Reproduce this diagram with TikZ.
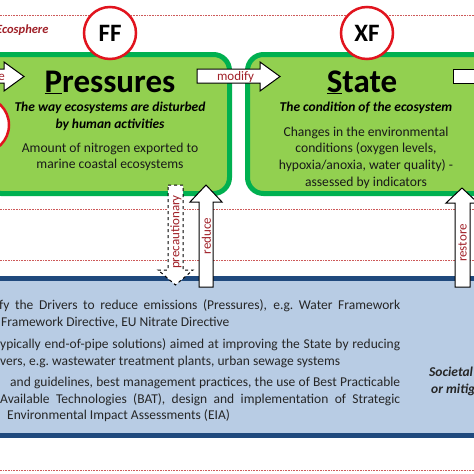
\documentclass[tikz,border=0pt]{standalone}
\usepackage{fontspec}
\setmainfont{Carlito}
\definecolor{gfill}{RGB}{146,208,80}
\definecolor{gline}{RGB}{0,176,80}
\definecolor{bfill}{RGB}{184,204,228}
\definecolor{bline}{RGB}{31,73,125}
\definecolor{dred}{RGB}{160,32,40}
\definecolor{cred}{RGB}{225,20,30}
\definecolor{dotred}{RGB}{205,90,90}
\tikzset{
  dotline/.style={draw=dotred, line width=0.6pt, densely dotted},
  greenbox/.style={fill=gfill, draw=gline, line width=5pt, rounded corners=16pt, inner sep=0pt},
  bluebox/.style={fill=bfill, draw=bline, line width=5pt, inner sep=0pt},
  factor/.style={circle, fill=white, draw=cred, line width=2.5pt, minimum size=52pt, inner sep=0pt, font=\bfseries\fontsize{25}{28}\selectfont},
  boxtitle/.style={font=\bfseries\fontsize{33}{38}\selectfont, anchor=base, inner sep=0pt},
  boxsub/.style={font=\bfseries\itshape\fontsize{13.5}{16}\selectfont, anchor=base, inner sep=0pt},
  boxtext/.style={font=\fontsize{13.6}{16}\selectfont, text=black!90, anchor=base, inner sep=0pt},
  blockarrow/.style={fill=white, draw=black, line width=1pt},
  dashedarrow/.style={fill=white, draw=black, line width=1pt, dashed},
  arrowlabel/.style={text=dred, font=\fontsize{13}{15}\selectfont, inner sep=0pt},
  bluetext/.style={font=\fontsize{13.5}{16}\selectfont, text=black!85, anchor=base west, inner sep=0pt},
  resptext/.style={font=\bfseries\itshape\fontsize{13.5}{16}\selectfont, text=black!85, anchor=base west, inner sep=0pt},
}
\begin{document}
\begin{tikzpicture}[x=1pt, y=-1pt]
\useasboundingbox (0,0) rectangle (474,474);
\fill[white] (0,0) rectangle (474,474);

% dotted separators
\coordinate (d1a) at (-5,15);  \coordinate (d1b) at (480,15);
\coordinate (d2a) at (-5,209); \coordinate (d2b) at (480,209);
\coordinate (d3a) at (-5,260); \coordinate (d3b) at (480,260);
\coordinate (d4a) at (-5,470); \coordinate (d4b) at (480,470);
\draw[dotline] (d1a) -- (d1b);
\draw[dotline] (d2a) -- (d2b);
\draw[dotline] (d3a) -- (d3b);
\draw[dotline] (d4a) -- (d4b);

\node[font=\bfseries\itshape\fontsize{12.5}{15}\selectfont, text=dred, anchor=base west, inner sep=0pt] (eco) at (-4,33) {Ecosphere};

% green boxes
\node[greenbox, minimum width=244.5pt, minimum height=139pt] (press) at (107.25,124) {};
\node[greenbox, minimum width=247.5pt, minimum height=139pt] (state) at (371.25,124) {};

% blue box
\node[bluebox, minimum width=500pt, minimum height=157pt] (resp) at (240,357) {};

% factor circles
\node[factor] (ff) at (110,33) {FF};
\node[factor] (xf) at (367,33) {XF};
\node[circle, draw=cred, fill=white, line width=2.5pt, minimum size=56pt, inner sep=0pt] (lc) at (-19,125) {};

% Pressures text
\node[boxtitle] (ptitle) at (110,92) {\underline{P}ressures};
\node[boxsub] (psub1) at (110,111) {The way ecosystems are disturbed};
\node[boxsub] (psub2) at (110,128) {by human activities};
\node[boxtext] (ptx1) at (110,152) {Amount of nitrogen exported to};
\node[boxtext] (ptx2) at (110,168) {marine coastal ecosystems};

% State text
\node[boxtitle] (stitle) at (362,92) {\underline{S}tate};
\node[boxsub] (ssub1) at (366,111) {The condition of the ecosystem};
\node[boxtext] (stx1) at (366,136) {Changes in the environmental};
\node[boxtext] (stx2) at (366,152) {conditions (oxygen levels,};
\node[boxtext] (stx3) at (366,169) {hypoxia/anoxia, water quality) -};
\node[boxtext] (stx4) at (366,186) {assessed by indicators};

% horizontal block arrows
\draw[blockarrow] (-20,69) -- (4,69) -- (4,62) -- (24,76.5) -- (4,91) -- (4,83) -- (-20,83) -- cycle;
\node[arrowlabel, anchor=base east] (lbe) at (5,80) {e};
\draw[blockarrow] (197,69) -- (260,69) -- (260,62) -- (280,76.5) -- (260,91) -- (260,83) -- (197,83) -- cycle;
\node[arrowlabel, anchor=base] (lbmod) at (235.5,80) {modify};
\draw[blockarrow] (453,69) rectangle (490,83);

% vertical block arrows
\draw[dashedarrow] (168,185) -- (183,185) -- (183,270) -- (193,270) -- (175.5,285) -- (158,270) -- (168,270) -- cycle;
\node[arrowlabel, rotate=90] (lbprec) at (176,232) {precautionary};
\draw[blockarrow] (199,287) -- (199,202) -- (190,202) -- (206,185) -- (222,202) -- (213,202) -- (213,287) -- cycle;
\node[arrowlabel, rotate=90] (lbred) at (206.5,236) {reduce};
\draw[blockarrow] (455,287) -- (455,203) -- (446,203) -- (462,188) -- (478,203) -- (470,203) -- (470,287) -- cycle;
\node[arrowlabel, rotate=90] (lbres) at (462.5,243) {restore};

% blue box text
\node[bluetext] (b1) at (-1,309.5) {\makebox[401pt][s]{fy the Drivers to reduce emissions (Pressures), e.g.\ Water Framework}};
\node[bluetext] (b2) at (1,326.5) {Framework Directive, EU Nitrate Directive};
\node[bluetext] (b3) at (0,348.5) {\makebox[400pt][s]{ypically end-of-pipe solutions) aimed at improving the State by reducing}};
\node[bluetext] (b4) at (0,365.5) {vers, e.g.\ wastewater treatment plants, urban sewage systems};
\node[bluetext] (b5) at (10,386.5) {\makebox[390pt][s]{and guidelines, best management practices, the use of Best Practicable}};
\node[bluetext] (b6) at (0,403.5) {\makebox[400pt][s]{Available Technologies (BAT), design and implementation of Strategic}};
\node[bluetext] (b7) at (7,419.5) {Environmental Impact Assessments (EIA)};
\node[resptext] (s1) at (429,376.5) {Societal};
\node[resptext] (s2) at (431,393.5) {or mitig};
\end{tikzpicture}
\end{document}
